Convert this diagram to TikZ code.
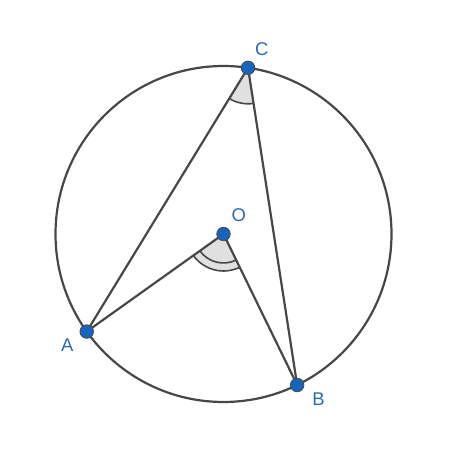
\documentclass[tikz,border=0pt]{standalone}
\usepackage{fontspec}
\setmainfont{Liberation Sans}
\usetikzlibrary{calc,positioning,angles}

\begin{document}
\begin{tikzpicture}
    \definecolor{ptb}{HTML}{1565C0}
    \definecolor{lbl}{HTML}{2A6BB0}
    \colorlet{edg}{black!72}
    \colorlet{shd}{black!12}
    \tikzset{
        seg/.style={draw=edg,line width=1.25pt},
        pt/.style={circle,fill=ptb,draw=black!70,line width=0.5pt,minimum size=0.27cm,inner sep=0pt},
        lab/.style={text=lbl,font=\fontsize{10.5}{12}\selectfont,inner sep=1pt}
    }

    \useasboundingbox (0,0) rectangle (9,9.2);

    \coordinate (O) at (4.47,4.52);
    \coordinate (A) at ($(O)+(215.5:3.36)$);
    \coordinate (B) at ($(O)+(296:3.36)$);
    \coordinate (C) at ($(O)+(81.6:3.36)$);

    % angle marks
    \pic[fill=shd,draw=edg,line width=0.9pt,angle radius=0.74cm] {angle=A--O--B};
    \pic[draw=edg,line width=0.9pt,angle radius=0.58cm] {angle=A--O--B};
    \pic[fill=shd,draw=edg,line width=0.9pt,angle radius=0.72cm] {angle=A--C--B};

    \draw[seg] (O) circle (3.36);
    \draw[seg] (A) -- (C) -- (B);
    \draw[seg] (A) -- (O) -- (B);

    \node (pA) [pt] at (A) {};
    \node (pB) [pt] at (B) {};
    \node (pC) [pt] at (C) {};
    \node (pO) [pt] at (O) {};

    \node [lab,above right=0.1cm and 0.0cm of pC] {C};
    \node [lab,above right=0.1cm and 0.02cm of pO] {O};
    \node [lab,below left=0.0cm and 0.12cm of pA]  {A};
    \node [lab,below right=0.02cm and 0.16cm of pB] {B};
\end{tikzpicture}
\end{document}
